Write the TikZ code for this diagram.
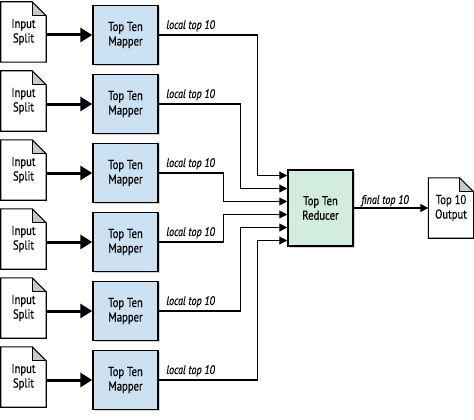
\documentclass[tikz,border=0pt]{standalone}
\usepackage{fontspec}
\setmainfont{PT Sans}[FakeStretch=0.82, FakeBold=0.4]
\usetikzlibrary{arrows.meta,shadows}

\definecolor{mapperfill}{RGB}{204,225,242}
\definecolor{reducerfill}{RGB}{210,236,223}
\definecolor{foldgray}{RGB}{200,200,200}

\tikzset{
  doc/.style={minimum width=45pt, minimum height=60pt, inner sep=0pt,
    align=center, font=\fontsize{13}{14.5}\selectfont,
    append after command={\pgfextra{
      \fill[foldgray] ([xshift=-14pt]\tikzlastnode.north east)
        -- ([yshift=-14pt]\tikzlastnode.north east)
        -- ([xshift=-14pt,yshift=-14pt]\tikzlastnode.north east) -- cycle;
      \draw[line width=1.1pt, line join=miter]
        ([xshift=-14pt]\tikzlastnode.north east)
        -- ([xshift=-14pt,yshift=-14pt]\tikzlastnode.north east)
        -- ([yshift=-14pt]\tikzlastnode.north east);
      \draw[line width=1.1pt, line join=miter]
        (\tikzlastnode.north west) -- ([xshift=-14pt]\tikzlastnode.north east)
        -- ([yshift=-14pt]\tikzlastnode.north east) -- (\tikzlastnode.south east)
        -- (\tikzlastnode.south west) -- cycle;
    }}},
  task/.style={draw, line width=1.5pt, minimum width=65pt, minimum height=59pt,
    inner sep=0pt, align=center, font=\fontsize{13}{14.5}\selectfont,
    drop shadow={shadow xshift=1.5pt, shadow yshift=-1.5pt, opacity=0.35}},
  mapper/.style={task, fill=mapperfill},
  reducer/.style={task, fill=reducerfill, minimum height=76pt},
  feed/.style={line width=3pt, -{Triangle[length=12pt,width=14pt]}},
  flow/.style={line width=1.2pt, -{Triangle[length=8pt,width=8pt]}},
  lbl/.style={font=\fontsize{12.3}{13}\selectfont\itshape, inner sep=1pt}
}

\begin{document}
\begin{tikzpicture}[x=1pt,y=-1pt]
\useasboundingbox (0,0) rectangle (474,420);

% reducer and final output
\node[reducer] (red) at (320.5,208) {Top Ten\\Reducer};
\node[doc] (out) at (451,208) {Top 10\\Output};
\draw[flow] (red.east) -- node[lbl, above, pos=0.42] {final top 10} (out.west);

% one row per input split
\foreach \i/\dx/\dy in {1/99/32.5, 2/82/19.5, 3/65/6.5, 4/65/-6.5, 5/82/-19.5, 6/99/-32.5} {
  \node[doc] (in\i) at (23.5,{32+69*(\i-1)}) {Input\\Split};
  \node[mapper] (m\i) at (125.5,{35+69*(\i-1)}) {Top Ten\\Mapper};
  \draw[feed] (in\i.east |- m\i.west) -- (m\i.west);
  \coordinate (r\i) at ([yshift=\dy pt]red.west);
  \draw[flow] (m\i.east) node[lbl, above right, xshift=6pt, yshift=2pt] {local top 10}
    -- ++(\dx,0) |- (r\i);
}
\end{tikzpicture}
\end{document}
